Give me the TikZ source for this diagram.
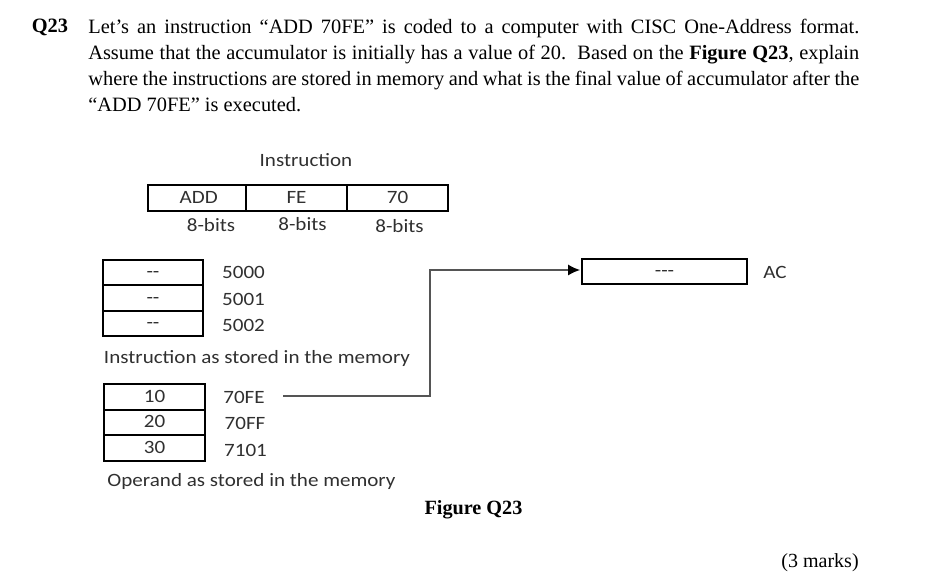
\documentclass[tikz,border=0pt]{standalone}
\usepackage{fontspec}
\usetikzlibrary{arrows.meta}
\setmainfont{Liberation Serif}
\newfontfamily\figfont[FakeStretch=1.12]{Carlito}
\definecolor{figtext}{HTML}{303030}
\definecolor{wiregray}{HTML}{555555}

\begin{document}
\begin{tikzpicture}[
    cell/.style={draw=black,line width=1.1pt,inner sep=0pt,minimum height=0.51cm,text height=1.5ex,text depth=0.25ex,font=\figfont\fontsize{10.7}{12}\selectfont,text=figtext},
    figlabel/.style={inner sep=0pt,font=\figfont\fontsize{10.7}{12}\selectfont,text=figtext},
    question/.style={inner sep=0pt,anchor=north west,font=\fontsize{11.6}{14.8}\selectfont}
  ]
  \useasboundingbox (0,0) rectangle (18.7,11.7);

  % question text
  \node[question] (qnum) at (0.63,11.33) {\textbf{Q23}};
  \node[question,text width=15.42cm,align=justify] (qtext) at (1.76,11.33) {Let’s an instruction “ADD 70FE” is coded to a computer with CISC One-Address format.\linebreak Assume that the accumulator is initially has a value of 20.\ \ Based on the \textbf{Figure Q23}, explain\linebreak where the instructions are stored in memory and what is the final value of accumulator after the\linebreak “ADD 70FE” is executed.};

  % instruction format
  \node[figlabel] (title) at (6.12,8.49) {Instruction};
  \node[cell,minimum width=1.96cm] (add) at (3.94,7.74) {\hspace*{2pt}ADD};
  \node[cell,minimum width=2.02cm] (fe) at (5.93,7.74) {FE};
  \node[cell,minimum width=2.02cm] (seventy) at (7.95,7.74) {70};
  \node[figlabel] (bitsa) at (4.22,7.2) {8-bits};
  \node[figlabel] (bitsb) at (6.05,7.22) {8-bits};
  \node[figlabel] (bitsc) at (7.99,7.17) {8-bits};

  % instruction memory
  \begin{scope}[every node/.append style={minimum width=2cm}]
    \node[cell] (insta) at (3.06,6.25) {--};
    \node[cell] (instb) at (3.06,5.74) {--};
    \node[cell] (instc) at (3.06,5.23) {--};
  \end{scope}
  \node[figlabel] (addra) at (4.87,6.25) {5000};
  \node[figlabel] (addrb) at (4.87,5.72) {5001};
  \node[figlabel] (addrc) at (4.87,5.19) {5002};
  \node[figlabel] (instcap) at (5.14,4.54) {Instruction as stored in the memory};

  % operand memory
  \begin{scope}[every node/.append style={minimum width=2.02cm}]
    \node[cell] (opa) at (3.09,3.76) {10};
    \node[cell] (opb) at (3.09,3.25) {20};
    \node[cell] (opc) at (3.09,2.74) {30};
  \end{scope}
  \node[figlabel] (addrd) at (4.88,3.76) {70FE};
  \node[figlabel] (addre) at (4.9,3.23) {70FF};
  \node[figlabel] (addrf) at (4.91,2.69) {7101};
  \node[figlabel] (opcap) at (5.03,2.07) {Operand as stored in the memory};

  % accumulator
  \node[cell,minimum width=3.3cm] (ac) at (13.29,6.27) {---};
  \node[figlabel] (aclabel) at (15.5,6.25) {AC};

  \coordinate (wirestart) at (5.66,3.78);
  \draw[wiregray,line width=0.9pt,-{Latex[length=2.4mm,width=2.2mm,black]},shorten >=0.5pt] (wirestart) -- (8.6,3.78) -- (8.6,6.3) -- (ac.west |- 8.6,6.3);

  \node[inner sep=0pt,font=\fontsize{11.5}{14}\selectfont\bfseries] (figcap) at (9.47,1.51) {Figure Q23};
  \node[inner sep=0pt,font=\fontsize{11.4}{14}\selectfont] (marks) at (16.4,0.44) {(3 marks)};
\end{tikzpicture}
\end{document}
